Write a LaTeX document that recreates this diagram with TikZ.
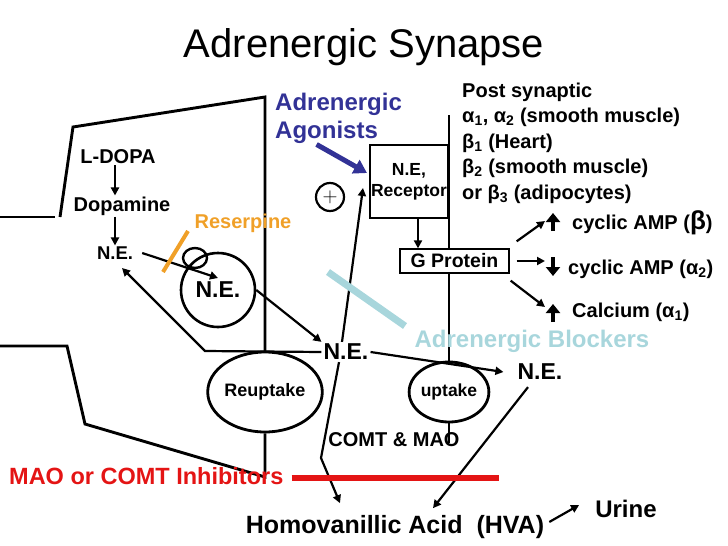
\documentclass[tikz,border=0pt]{standalone}
\usepackage{fontspec}
\setmainfont{Liberation Sans}
\usepackage{tikz}
\usetikzlibrary{arrows.meta, shapes.geometric}

\definecolor{agon}{RGB}{50,50,150}
\definecolor{block}{RGB}{168,214,220}
\definecolor{reser}{RGB}{240,160,40}
\definecolor{inhib}{RGB}{228,20,20}
\newcommand{\fsz}[1]{\fontsize{#1}{#1}\selectfont}

\begin{document}
\begin{tikzpicture}[
    x=1pt, y=-1pt,
    memb/.style={draw, line width=2.9pt},
    conn/.style={draw, line width=2.2pt, -{Triangle[length=8pt, width=8pt]}},
    fat/.style={draw, line width=4.5pt, -{Triangle[length=9pt, width=14pt]}},
    lab/.style={font=\bfseries\fsz{20}, inner sep=1pt},
    sac/.style={ellipse, draw, line width=2.8pt, inner sep=0pt, font=\bfseries\fsz{18}}
  ]
  \useasboundingbox (0,0) rectangle (728,546);

  \node[font=\fsz{40}] (title) at (364,47) {Adrenergic Synapse};

  % presynaptic side
  \draw[memb] (0,217) -- (55,217);
  \draw[memb] (60,217) -- (73,127) -- (265,97) -- (265,351);
  \node[sac, minimum width=93pt, minimum height=80pt] (reup) at (265,392) {Reuptake};
  \draw[memb] (0,346) -- (67,346) -- (85,424) -- (265,477) -- (reup.south);

  \node[lab] (ldopa) at (118,157) {L-DOPA};
  \node[lab] (dopa) at (122,206) {Dopamine};
  \node[lab, font=\bfseries\fsz{18.5}] (ne1) at (115,253) {N.E.};
  \draw[conn] ([xshift=-3pt]ldopa.south) -- ([xshift=-7pt]dopa.north);
  \draw[conn] ([xshift=-7pt]dopa.south) -- (ne1.north);

  \node[circle, draw, line width=2.6pt, minimum size=74pt, inner sep=0pt,
        font=\bfseries\fsz{23}] (ne2) at (218,290) {N.E.};
  \node[ellipse, draw, line width=2.4pt, minimum width=24pt, minimum height=20pt,
        inner sep=0pt] (bud) at (195,258) {};
  \draw[conn] ([xshift=8pt]ne1.east) -- ([yshift=12pt]ne2.center);

  \draw[reser, line width=4pt] (163,272) -- (188,231);
  \node[lab, text=reser] (reserp) at (243,223) {Reserpine};

  % synaptic cleft
  \node[lab, font=\bfseries\fsz{23}, inner sep=2pt] (ne3) at (346,352) {N.E.};
  \coordinate (back) at (122,268);
  \draw[conn] (ne2.east) -- (ne3.north west);
  \draw[conn] (ne3.west) -- (205,351) -- (back);

  \node[circle, draw, line width=2.2pt, minimum size=28pt, inner sep=0pt,
        font=\fsz{22}] (plus) at (330,197) {$+$};

  \node[lab, text=agon, font=\bfseries\fsz{24}, align=left, anchor=west]
    (agon) at (274,118) {Adrenergic\\[4pt]Agonists};
  \coordinate (agtip) at (367,173);
  \draw[agon, line width=5pt, -{Triangle[length=13pt, width=15pt]}]
    ([xshift=-22pt]agon.south) -- (agtip);

  % postsynaptic side
  \node[sac, minimum width=66pt, minimum height=60pt, font=\bfseries\fsz{17.5}]
    (upt) at (449,392) {uptake};
  \draw[memb] (449,115) -- (upt.north);
  \draw[memb] (upt.south) -- ++(0,20);

  \node[draw, line width=2.9pt, minimum width=78pt, minimum height=73pt, inner sep=0pt,
        align=center, font=\bfseries\fsz{17.5}] (rcpt) at (409,181.5) {N.E,\\[3.5pt]Receptor};
  \node[draw, line width=1.3pt, fill=white, minimum width=109pt, minimum height=24pt,
        inner sep=0pt, font=\bfseries\fsz{19.5}] (gprot) at (454.5,261) {G Protein};
  \draw[conn] ([xshift=9pt]rcpt.south) -- ([xshift=-36.5pt]gprot.north);

  \coordinate (rin) at (363,188);
  \draw[conn] ([xshift=-4pt]ne3.north) -- (rin);

  \node[lab, font=\bfseries\fsz{23}, inner sep=2pt] (ne4) at (540,372) {N.E.};
  \draw[conn] (ne3.east) -- ([xshift=-12pt]ne4.west);

  \draw[block, line width=7pt] (328,272) -- (405,326);
  \node[lab, text=block, font=\bfseries\fsz{24}] (blk) at (532,341) {Adrenergic Blockers};

  \node[lab, anchor=base west] (post1) at (461,97) {Post synaptic};
  \node[lab, anchor=base west] (post2) at (461,122.5) {α\textsubscript{1}, α\textsubscript{2} (smooth muscle)};
  \node[lab, anchor=base west] (post3) at (461,148) {β\textsubscript{1} (Heart)};
  \node[lab, anchor=base west] (post4) at (461,173.5) {β\textsubscript{2} (smooth muscle)};
  \node[lab, anchor=base west] (post5) at (461,199) {or β\textsubscript{3} (adipocytes)};

  % second messengers
  \coordinate (e1) at (545,221);
  \coordinate (e2) at (545,261);
  \coordinate (e3) at (545,307);
  \draw[conn] ([shift={(7,-7)}]gprot.north east) -- (e1);
  \draw[conn] ([xshift=7pt]gprot.east) -- (e2);
  \draw[conn] ([shift={(1,7)}]gprot.south east) -- (e3);
  \draw[fat] (553,231) -- (553,213);
  \draw[fat] (553,257) -- (553,276);
  \draw[fat] (553,322) -- (553,304);
  \node[lab, anchor=base west] (eff1) at (571,229) {cyclic AMP ({\fsz{26}β})};
  \node[lab, anchor=base west] (eff2) at (567,274) {cyclic AMP (α\textsubscript{2})};
  \node[lab, anchor=base west] (eff3) at (571,317) {Calcium (α\textsubscript{1})};

  % metabolism
  \node[lab] (comt) at (394,440) {COMT \& MAO};
  \node[lab, font=\bfseries\fsz{25}] (hva) at (395,527) {Homovanillic Acid\ \ (HVA)};
  \node[lab, font=\bfseries\fsz{24}] (urine) at (626,509) {Urine};
  \draw[conn] ([xshift=-7pt]ne3.south) -- (321,458) -- ([xshift=-55pt, yshift=11pt]hva.north);
  \draw[conn] ([xshift=-12pt, yshift=-5pt]ne4.south) -- ([xshift=38pt, yshift=6pt]hva.north);
  \draw[conn] ([shift={(4,-5)}]hva.east) -- ([shift={(-15,-4)}]urine.west);

  \node[lab, text=inhib, font=\bfseries\fsz{23.5}, anchor=west] (inh) at (8,476) {MAO or COMT Inhibitors};
  \draw[inhib, line width=6pt] ([xshift=7pt, yshift=-2pt]inh.east) -- ++(207,0);
\end{tikzpicture}
\end{document}
